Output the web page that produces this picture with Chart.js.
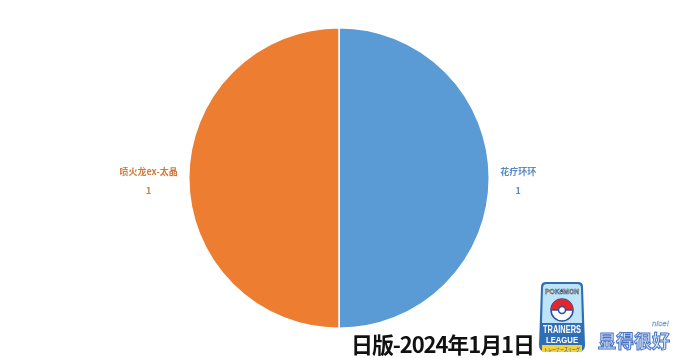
<!DOCTYPE html>
<html><head><meta charset="utf-8">
<script src="https://cdn.jsdelivr.net/npm/chart.js@4/dist/chart.umd.min.js"></script>
<style>
html,body{margin:0;padding:0;background:#fff;}
#wrap{position:relative;width:678px;height:358px;overflow:hidden;}
#c{position:absolute;left:0;top:0;}
#title{position:absolute;left:351px;top:332px;font:bold 22px "Noto Sans CJK SC",sans-serif;line-height:22px;color:#111;white-space:nowrap;letter-spacing:-1.1px;}
#logo{position:absolute;left:535px;top:281px;}
#wm{position:absolute;left:594px;top:312px;}
</style></head>
<body><div id="wrap">
<canvas id="c" width="678" height="358"></canvas>
<div id="title">日版-2024年1月1日</div>
<svg id="logo" width="54" height="77" viewBox="0 0 54 77">
  <path d="M6 6 Q6 1 11 1 L43 1 Q48 1 48 6 L50 64 Q50 70 44 71 L10 71 Q4 70 4 64 Z" fill="#2f6db5"/>
  <path d="M8 7 Q8 3 12 3 L42 3 Q46 3 46 7 L47 42 L7 42 Z" fill="#bfe3f7"/>
  <text x="27" y="13" font-family="Liberation Sans" font-weight="bold" font-size="8" text-anchor="middle" textLength="34" lengthAdjust="spacingAndGlyphs" fill="#f6d12a" stroke="#2b4f9c" stroke-width="0.5">POKéMON</text>
  <circle cx="27" cy="29" r="11" fill="#fff" stroke="#2b4f9c" stroke-width="1.5"/>
  <path d="M16 29 A11 11 0 0 1 38 29 Z" fill="#e3262b"/>
  <line x1="16" y1="29" x2="38" y2="29" stroke="#2b4f9c" stroke-width="1.5"/>
  <circle cx="27" cy="29" r="3.5" fill="#fff" stroke="#2b4f9c" stroke-width="1.5"/>
  <text x="27" y="52" font-family="Liberation Sans" font-weight="bold" font-size="10" text-anchor="middle" textLength="38" lengthAdjust="spacingAndGlyphs" fill="#fff">TRAINERS</text>
  <text x="27" y="61.5" font-family="Liberation Sans" font-weight="bold" font-size="8.5" text-anchor="middle" textLength="32" lengthAdjust="spacingAndGlyphs" fill="#fff">LEAGUE</text>
  <rect x="7" y="64" width="40" height="7" fill="#f4d23c"/>
  <text x="27" y="70" font-family="Noto Sans CJK JP" font-size="5" text-anchor="middle" textLength="36" lengthAdjust="spacingAndGlyphs" fill="#2b4f9c">トレーナーズリーグ</text>
</svg>
<svg id="wm" width="82" height="42" viewBox="0 0 82 42">
  <text x="58" y="14" font-family="Liberation Sans" font-style="italic" font-size="8" fill="#bcd3ee" stroke="#6a8fcf" stroke-width="0.3">nice!</text>
  <text x="4" y="36" font-family="Noto Sans CJK SC" font-weight="bold" font-size="18" textLength="72" lengthAdjust="spacingAndGlyphs" fill="#dbe9fa" stroke="#4a74c4" stroke-width="1">显得很好</text>
</svg>
</div>
<script>
const categories = ["花疗环环", "喷火龙ex-太晶"];
const values = [1, 1];
const sliceColors = ["#5B9BD5", "#ED7D31"];
const labelColors = ["#5A8AC2", "#D47A38"];

const outsideLabels = {
  id: 'outsideLabels',
  afterDatasetsDraw(chart) {
    const ctx = chart.ctx;
    const meta = chart.getDatasetMeta(0);
    meta.data.forEach((arc, i) => {
      const p = arc.getProps(['x','y','startAngle','endAngle','outerRadius'], true);
      const mid = (p.startAngle + p.endAngle) / 2;
      const cos = Math.cos(mid), sin = Math.sin(mid);
      const r = p.outerRadius + 11;
      const ax = p.x + cos * r;
      const ay = p.y + sin * r;
      ctx.save();
      ctx.font = 'bold 9px "Noto Sans CJK SC", sans-serif';
      ctx.fillStyle = labelColors[i];
      ctx.textBaseline = 'middle';
      const name = categories[i];
      const w = ctx.measureText(name).width;
      const left = cos >= 0 ? ax : ax - w;
      const cx = left + w / 2;
      ctx.textAlign = 'center';
      ctx.fillText(name, cx, ay - 6);
      ctx.fillText(String(values[i]), cx, ay + 13);
      ctx.restore();
    });
  }
};

new Chart(document.getElementById('c'), {
  type: 'pie',
  data: {
    labels: categories,
    datasets: [{
      data: values,
      backgroundColor: sliceColors,
      borderColor: '#ffffff',
      borderWidth: 1.5
    }]
  },
  options: {
    responsive: false,
    animation: false,
    layout: { padding: { top: 27, bottom: 29, left: 0, right: 0 } },
    plugins: {
      legend: { display: false },
      tooltip: { enabled: false },
      title: { display: false }
    }
  },
  plugins: [outsideLabels]
});
</script>
</body></html>
